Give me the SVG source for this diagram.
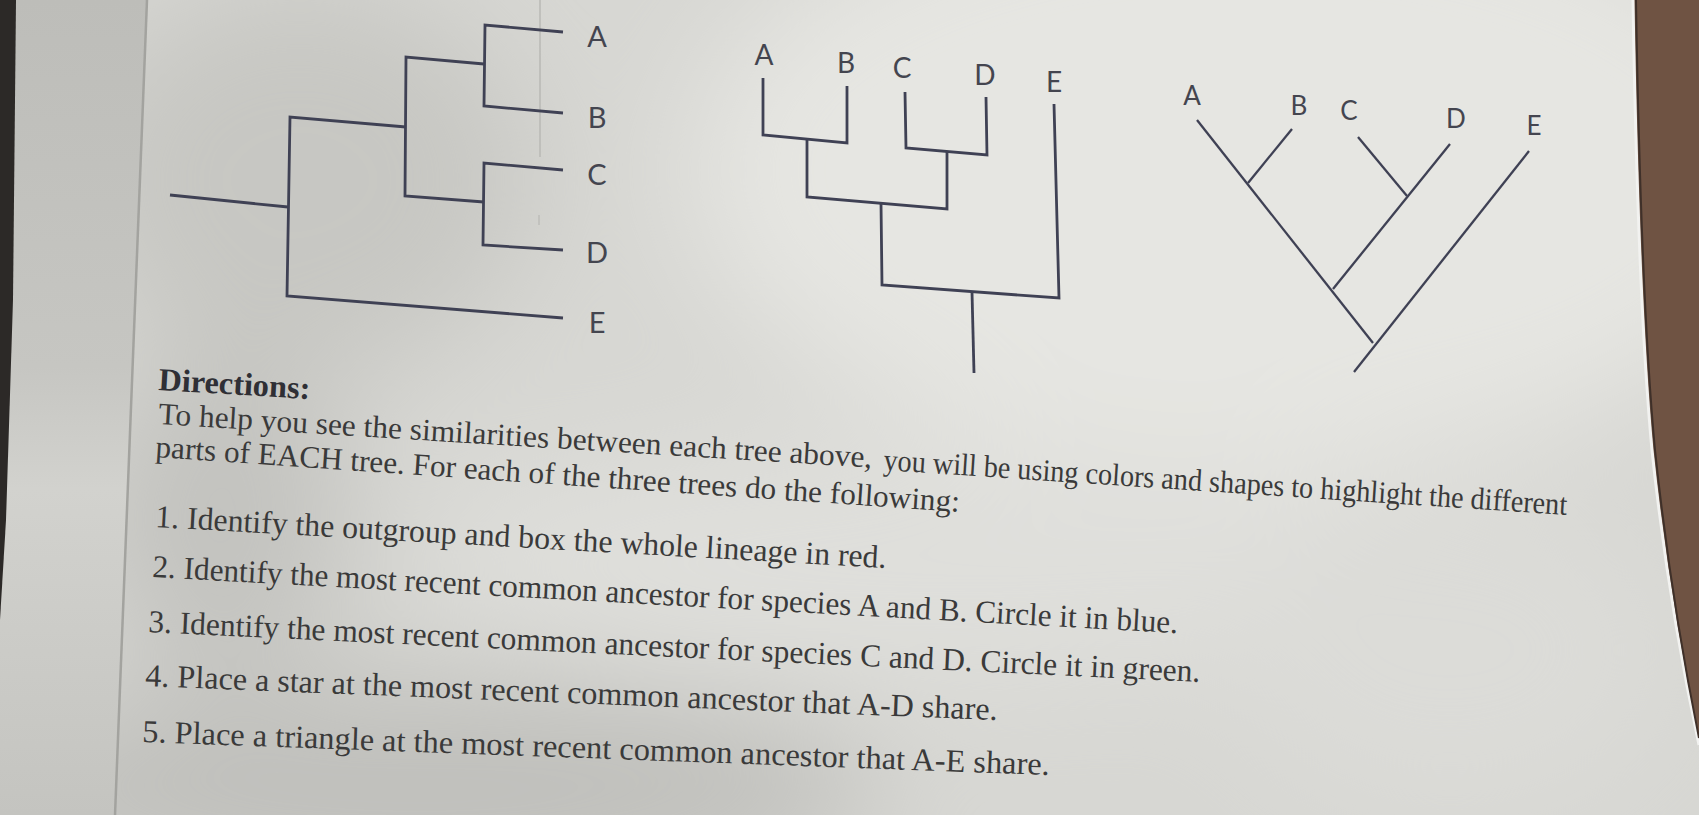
<svg xmlns="http://www.w3.org/2000/svg" width="1699" height="815" viewBox="0 0 1699 815">
<defs>
<style>
.t1{fill:none;stroke:#3f4154;stroke-width:2.8;stroke-linejoin:miter;stroke-linecap:butt}
.t3{fill:none;stroke:#3f4154;stroke-width:2.3;stroke-linecap:butt}
.lab{font-family:Lato,"Liberation Sans",sans-serif;font-weight:400;fill:#44454f;text-anchor:middle}
.body{font-family:"Liberation Serif","Times New Roman",serif;font-size:31px;fill:#3a3a3a}
.item{font-family:"Liberation Serif","Times New Roman",serif;font-size:32px;fill:#3a3a3a}
.bold{font-family:"Liberation Serif","Times New Roman",serif;font-size:32px;font-weight:bold;fill:#2f2f35}
</style>
<filter id="blur" x="-50%" y="-50%" width="200%" height="200%"><feGaussianBlur stdDeviation="60"/></filter>
<linearGradient id="leftStrip" x1="0" y1="0" x2="0" y2="1">
<stop offset="0" stop-color="#bdbdb9"/>
<stop offset="0.45" stop-color="#c6c6c2"/>
<stop offset="0.6" stop-color="#d2d2ce"/>
<stop offset="1" stop-color="#c4c4c0"/>
</linearGradient>
</defs>

<g id="background">
<rect x="0" y="0" width="1699" height="815" fill="#d7d7d3"/>
<g filter="url(#blur)">
<ellipse cx="1250" cy="170" rx="560" ry="300" fill="#e6e6e2"/>
<ellipse cx="950" cy="560" rx="520" ry="120" fill="#dfdfdb"/>
<ellipse cx="300" cy="180" rx="230" ry="200" fill="#c7c7c3"/>
<ellipse cx="420" cy="790" rx="460" ry="110" fill="#c0c0bc"/>
<ellipse cx="220" cy="520" rx="130" ry="160" fill="#c3c3bf"/>
<ellipse cx="1450" cy="650" rx="220" ry="160" fill="#dcdcd8"/>
</g>
<polygon points="0,0 147,0 115,815 0,815" fill="url(#leftStrip)"/>
<line x1="147" y1="0" x2="115" y2="815" stroke="#a3a39f" stroke-width="2.5"/>
<polygon points="0,0 16,0 13,300 6,520 0,620" fill="#2c2927"/>
<path d="M1633,0 Q1638,300 1652,450 Q1668,600 1699,745 L1699,0 Z" fill="#6f5343"/>
<path d="M1633,0 Q1638,300 1652,450 Q1668,600 1699,745" fill="none" stroke="#f2f2f0" stroke-width="3"/>
<path d="M1636,0 Q1641,300 1655,450 Q1671,600 1699,738" fill="none" stroke="#3f3029" stroke-width="2"/>
<line x1="540" y1="0" x2="540" y2="157" stroke="#b9b9b5" stroke-width="1.5"/>
<line x1="539" y1="215" x2="539" y2="225" stroke="#bdbdb9" stroke-width="1.5"/>
</g>

<g id="tree1">
<g id="tree1-connectors">
<path class="t1" d="M170,195 L288,207"/>
<path class="t1" d="M563,318 L287,296 L290,117 L406,127"/>
<path class="t1" d="M484,64 L406,57 L405,196 L484,202"/>
<path class="t1" d="M563,32 L485,25 L484,106 L563,113"/>
<path class="t1" d="M563,170 L484,163 L483,245 L563,250"/>
</g>
<g id="t1-A"><text class="lab" x="597" y="47" font-size="29">A</text></g>
<g id="t1-B"><text class="lab" x="597" y="128" font-size="29">B</text></g>
<g id="t1-C"><text class="lab" x="597" y="185" font-size="29">C</text></g>
<g id="t1-D"><text class="lab" x="597" y="263" font-size="29">D</text></g>
<g id="t1-E"><text class="lab" x="597" y="333" font-size="29">E</text></g>
</g>

<g id="tree2">
<g id="tree2-connectors">
<path class="t1" d="M763,78 L763,135 L847,143 L847,86"/>
<path class="t1" d="M807,140 L807,197 L947,209 L947,152"/>
<path class="t1" d="M905,92 L906,148 L987,155 L986,97"/>
<path class="t1" d="M881,203 L882,285 L1059,298 L1054,104"/>
<path class="t1" d="M972,292 L974,373"/>
</g>
<g id="t2-A"><text class="lab" x="764" y="65" font-size="28">A</text></g>
<g id="t2-B"><text class="lab" x="846" y="73" font-size="28">B</text></g>
<g id="t2-C"><text class="lab" x="902" y="78" font-size="28">C</text></g>
<g id="t2-D"><text class="lab" x="985" y="85" font-size="28">D</text></g>
<g id="t2-E"><text class="lab" x="1054" y="92" font-size="28">E</text></g>
</g>

<g id="tree3">
<g id="tree3-connectors">
<line class="t3" x1="1197" y1="120" x2="1373" y2="343"/>
<line class="t3" x1="1292" y1="129" x2="1248" y2="183"/>
<line class="t3" x1="1358" y1="137" x2="1407" y2="196"/>
<line class="t3" x1="1450" y1="144" x2="1333" y2="289"/>
<line class="t3" x1="1529" y1="151" x2="1354" y2="372"/>
</g>
<g id="t3-A"><text class="lab" x="1192" y="105" font-size="26">A</text></g>
<g id="t3-B"><text class="lab" x="1299" y="115" font-size="26">B</text></g>
<g id="t3-C"><text class="lab" x="1349" y="120" font-size="26">C</text></g>
<g id="t3-D"><text class="lab" x="1456" y="128" font-size="26">D</text></g>
<g id="t3-E"><text class="lab" x="1534" y="135" font-size="26">E</text></g>
</g>

<g id="directions">
<g transform="translate(158,390) rotate(3.4)"><text class="bold" x="0" y="0" textLength="152" lengthAdjust="spacingAndGlyphs">Directions:</text></g>
<g transform="translate(158,424) rotate(3.5)"><text class="body" x="0" y="0" textLength="715" lengthAdjust="spacingAndGlyphs">To help you see the similarities between each tree above,</text></g>
<g transform="translate(883,470) rotate(3.76)"><text class="body" x="0" y="0" textLength="685" lengthAdjust="spacingAndGlyphs">you will be using colors and shapes to highlight the different</text></g>
<g transform="translate(155,457) rotate(3.91)"><text class="body" x="0" y="0" textLength="806" lengthAdjust="spacingAndGlyphs">parts of EACH tree. For each of the three trees do the following:</text></g>
<g transform="translate(155,527) rotate(3.21)"><text class="item" x="0" y="0" textLength="732" lengthAdjust="spacingAndGlyphs">1. Identify the outgroup and box the whole lineage in red.</text></g>
<g transform="translate(152,577) rotate(3.13)"><text class="item" x="0" y="0" textLength="1027" lengthAdjust="spacingAndGlyphs">2. Identify the most recent common ancestor for species A and B. Circle it in blue.</text></g>
<g transform="translate(148,632) rotate(2.72)"><text class="item" x="0" y="0" textLength="1053" lengthAdjust="spacingAndGlyphs">3. Identify the most recent common ancestor for species C and D. Circle it in green.</text></g>
<g transform="translate(145,686) rotate(2.29)"><text class="item" x="0" y="0" textLength="853" lengthAdjust="spacingAndGlyphs">4. Place a star at the most recent common ancestor that A-D share.</text></g>
<g transform="translate(142,742) rotate(2.08)"><text class="item" x="0" y="0" textLength="908" lengthAdjust="spacingAndGlyphs">5. Place a triangle at the most recent common ancestor that A-E share.</text></g>
</g>
</svg>
